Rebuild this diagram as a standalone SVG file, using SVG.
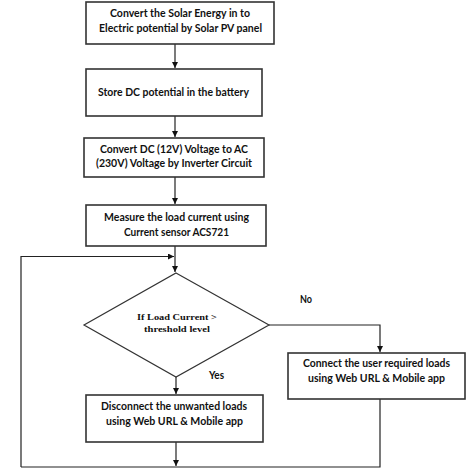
<svg xmlns="http://www.w3.org/2000/svg" width="474" height="476" viewBox="0 0 474 476">
<style>
.box{fill:#fff;stroke:#333;stroke-width:1.6}
.ln{fill:none;stroke:#222;stroke-width:1.2}
.t{font-family:Lato,"Open Sans","Liberation Sans",sans-serif;font-weight:bold;font-size:11px;fill:#111}
.d{font-family:"Liberation Serif","DejaVu Serif",serif;font-weight:bold;font-size:9px;fill:#111}
</style>
<defs>
<marker id="ah" viewBox="0 0 10 10" refX="10" refY="5" markerWidth="6" markerHeight="6" orient="auto" markerUnits="userSpaceOnUse">
<path d="M0,0 L10,5 L0,10 z" fill="#111"/>
</marker>
</defs>
<rect width="474" height="476" fill="#fff"/>
<g id="connectors">
<line class="ln" x1="175" y1="44" x2="175" y2="68" marker-end="url(#ah)"/>
<line class="ln" x1="175" y1="116" x2="175" y2="137" marker-end="url(#ah)"/>
<line class="ln" x1="175" y1="177" x2="175" y2="204" marker-end="url(#ah)"/>
<line class="ln" x1="175" y1="246" x2="175" y2="272" marker-end="url(#ah)"/>
<polyline class="ln" points="21,467 21,256.5 174,256.5" marker-end="url(#ah)"/>
<polyline class="ln" points="269,325 380,325 380,352" marker-end="url(#ah)"/>
<line class="ln" x1="176" y1="377" x2="176" y2="394" marker-end="url(#ah)"/>
<line class="ln" x1="176" y1="442" x2="176" y2="466" marker-end="url(#ah)"/>
<polyline class="ln" points="21,467 380,467 380,399"/>
<text class="t" x="300" y="303" textLength="12" lengthAdjust="spacingAndGlyphs">No</text>
<text class="t" x="209" y="379" textLength="15" lengthAdjust="spacingAndGlyphs">Yes</text>
</g>
<g id="n1">
<rect class="box" x="86" y="2" width="188" height="42"/>
<text class="t" x="110" y="17" textLength="140" lengthAdjust="spacingAndGlyphs">Convert the Solar Energy in to</text>
<text class="t" x="99" y="32" textLength="163" lengthAdjust="spacingAndGlyphs">Electric potential by Solar PV panel</text>
</g>
<g id="n2">
<rect class="box" x="86" y="69" width="176" height="47"/>
<text class="t" x="98" y="96" textLength="151" lengthAdjust="spacingAndGlyphs">Store DC potential in the battery</text>
</g>
<g id="n3">
<rect class="box" x="84" y="138" width="180" height="39"/>
<text class="t" x="100" y="153" textLength="148" lengthAdjust="spacingAndGlyphs">Convert DC (12V) Voltage to AC</text>
<text class="t" x="96" y="167" textLength="156" lengthAdjust="spacingAndGlyphs">(230V) Voltage by Inverter Circuit</text>
</g>
<g id="n4">
<rect class="box" x="86" y="205" width="180" height="41"/>
<text class="t" x="104" y="221" textLength="145" lengthAdjust="spacingAndGlyphs">Measure the load current using</text>
<text class="t" x="124" y="236" textLength="105" lengthAdjust="spacingAndGlyphs">Current sensor ACS721</text>
</g>
<g id="n5">
<polygon class="box" points="176,273 269,325 176,377 84,325" style="stroke-width:1.2"/>
<text class="d" x="137" y="320" textLength="80" lengthAdjust="spacingAndGlyphs">If Load Current &gt;</text>
<text class="d" x="144" y="332" textLength="66" lengthAdjust="spacingAndGlyphs">threshold level</text>
</g>
<g id="n6">
<rect class="box" x="288" y="353" width="177" height="46"/>
<text class="t" x="303" y="367" textLength="147" lengthAdjust="spacingAndGlyphs">Connect the user required loads</text>
<text class="t" x="308" y="382" textLength="137" lengthAdjust="spacingAndGlyphs">using Web URL &amp; Mobile app</text>
</g>
<g id="n7">
<rect class="box" x="86" y="395" width="177" height="47"/>
<text class="t" x="101" y="410" textLength="146" lengthAdjust="spacingAndGlyphs">Disconnect the unwanted loads</text>
<text class="t" x="106" y="425" textLength="137" lengthAdjust="spacingAndGlyphs">using Web URL &amp; Mobile app</text>
</g>
</svg>
